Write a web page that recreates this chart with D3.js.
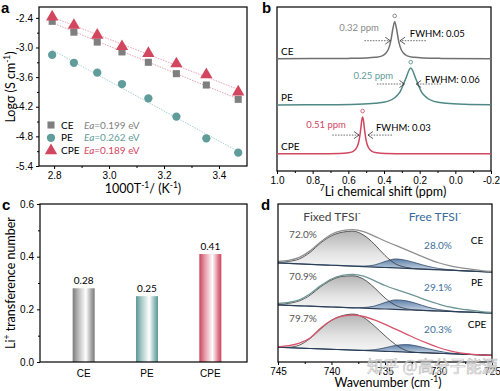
<!DOCTYPE html>
<html>
<head>
<meta charset="utf-8">
<script src="https://cdn.jsdelivr.net/npm/d3@7"></script>
<style>
  body { margin: 0; background: #fff; }
  svg { font-family: Lato, "Open Sans", sans-serif; }
</style>
</head>
<body>
<svg id="chart" width="500" height="391"></svg>
<script>
/* DATA */
const samples = ["CE", "PE", "CPE"];

// (a) Arrhenius plot
const invT   = [2.793, 2.872, 2.957, 3.047, 3.143, 3.245, 3.354, 3.470];
const logCE  = [-2.47, -2.69, -2.89, -3.09, -3.30, -3.53, -3.76, -4.05];
const logPE  = [-3.15, -3.31, -3.51, -3.74, -4.03, -4.40, -4.84, -5.13];
const logCPE = [-2.38, -2.55, -2.75, -2.98, -3.12, -3.33, -3.55, -3.90];
const eaText = ["0.199", "0.262", "0.189"];

// (b) 7Li NMR, [ppm, normalised intensity]
const nmrCE = [[1.0,0.004],[0.8,0.006],[0.6,0.012],[0.5,0.022],[0.45,0.04],[0.41,0.08],[0.39,0.15],
  [0.37,0.33],[0.36,0.53],[0.35,0.82],[0.34,1],[0.33,0.82],[0.32,0.53],[0.31,0.33],[0.29,0.15],
  [0.27,0.08],[0.23,0.04],[0.18,0.022],[0.08,0.012],[-0.2,0.004]];
const nmrPE = [[1.0,0.006],[0.7,0.01],[0.55,0.022],[0.45,0.05],[0.38,0.1],[0.34,0.2],[0.31,0.36],
  [0.28,0.69],[0.25,1],[0.22,0.69],[0.19,0.36],[0.16,0.2],[0.12,0.1],[0.05,0.05],[-0.05,0.022],[-0.2,0.01]];
const nmrCPE = [[1.0,0.003],[0.77,0.004],[0.65,0.013],[0.6,0.034],[0.57,0.08],[0.55,0.2],[0.54,0.36],
  [0.53,0.69],[0.525,0.9],[0.52,1],[0.515,0.9],[0.51,0.69],[0.5,0.36],[0.49,0.2],[0.47,0.08],
  [0.44,0.034],[0.39,0.013],[0.27,0.004],[-0.2,0.003]];
const peakPpm   = [0.34, 0.25, 0.52];
const ppmLabel  = ["0.32 ppm", "0.25 ppm", "0.51 ppm"];
const fwhmLabel = ["FWHM: 0.05", "FWHM: 0.06", "FWHM: 0.03"];

// (c) Li+ transference number
const tLi = [0.28, 0.25, 0.41];

// (d) FTIR deconvolution, heights above baseline (a.u.)
const wn = [745, 744, 743, 742, 741, 740, 739, 738, 737, 736, 735, 734, 733, 732, 731, 730, 729, 728, 727, 726, 725];
const fixedCE  = [0.5, 2, 5, 12, 22, 29.5, 33.5, 35, 31.5, 23, 12, 4, 1, 0, 0, 0, 0, 0, 0, 0, 0];
const freeCE   = [0, 0, 0, 0, 0, 0, 0, 0, 0.5, 2, 6, 9, 8, 5.5, 3, 1.3, 0.5, 0, 0, 0, 0];
const envCE    = [1.5, 3, 6.5, 13.5, 23, 31, 35, 36.5, 35, 31, 26.5, 22.5, 18.5, 14.5, 10.5, 7, 4.5, 3, 2, 1, 0.5];
const fixedPE  = [0.5, 2, 5, 11, 20, 27, 31, 32, 29, 21, 11, 4, 1, 0, 0, 0, 0, 0, 0, 0, 0];
const freePE   = [0, 0, 0, 0, 0, 0, 0, 0, 0.7, 2.5, 6.5, 9.5, 9, 6.5, 3.5, 1.5, 0.5, 0, 0, 0, 0];
const envPE    = [1.5, 3, 6, 12.5, 21, 28, 32, 33.5, 32, 28, 23.5, 20, 17, 13.5, 10, 7, 4.5, 3, 2, 1, 0.5];
const fixedCPE = [0, 0.5, 3, 10, 20, 29, 34, 36, 33, 25, 15.5, 7, 1.5, 0, 0, 0, 0, 0, 0, 0, 0];
const freeCPE  = [0, 0, 0, 0, 0, 0, 0, 0, 0.3, 1.2, 3.5, 6.3, 7.5, 6.5, 4.2, 2.2, 0.8, 0.2, 0, 0, 0];
const envCPE   = [0.5, 2, 5, 10.5, 21, 29, 33.5, 35, 34, 31, 27, 22.5, 18, 13.5, 9.5, 5.8, 3, 1.2, 0.4, 0, 0];
const baseDrop = [9, 8, 8];   // baseline fall from 745 to 725 cm-1
const fixedPct = ["72.0%", "70.9%", "79.7%"];
const freePct  = ["28.0%", "29.1%", "20.3%"];

/* STYLE */
const colors = { CE: "#7f7f7f", PE: "#5f9c9a", CPE: "#d2475f" };
const fitColors = { CE: "#e3a3b0", PE: "#a6d2dc", CPE: "#eba3b4" };

const svg = d3.select("#chart");
const defs = svg.append("defs");

// little helper for labels with superscripts: parts = [[text, isSup], ...]
function richText(sel, parts, size) {
  parts.forEach(([t, sup], i) => {
    const prevSup = i > 0 && parts[i - 1][1];
    sel.append("tspan")
      .attr("font-size", sup ? size * 0.68 : size)
      .attr("dy", sup ? -size * 0.38 : (prevSup ? size * 0.38 : 0))
      .text(t);
  });
  return sel;
}

function frame(g, x0, y0, x1, y1) {
  g.append("rect")
    .attr("x", x0).attr("y", y0)
    .attr("width", x1 - x0).attr("height", y1 - y0)
    .attr("fill", "none").attr("stroke", "#000").attr("stroke-width", 1.2);
}

function styleAxis(g) {
  g.select(".domain").remove();
  g.selectAll("text").attr("font-size", 10).attr("fill", "#000");
  g.selectAll("line").attr("stroke", "#000");
}

function panelLetter(x, y, t) {
  svg.append("text").attr("x", x).attr("y", y)
    .attr("font-size", 15).attr("font-weight", "bold")
    .attr("font-family", "Liberation Sans, Arial, sans-serif")
    .text(t);
}

/* PANEL A */
{
  const g = svg.append("g");
  const x = d3.scaleLinear().domain([2.745, 3.502]).range([39, 247]);
  const y = d3.scaleLinear().domain([-5.4, -2.18]).range([166, 7]);
  const series = [logCE, logPE, logCPE];
  const symbols = [d3.symbolSquare, d3.symbolCircle, d3.symbolTriangle];
  const symSizes = [50, 54, 66];

  g.append("g").attr("transform", "translate(0,166)")
    .call(d3.axisBottom(x).tickValues([2.8, 3.0, 3.2, 3.4]).tickSize(3).tickFormat(d => d.toFixed(1)))
    .call(styleAxis);
  g.append("g").attr("transform", "translate(0,166)")
    .call(d3.axisBottom(x).tickValues([2.9, 3.1, 3.3]).tickSize(2).tickFormat(""))
    .call(styleAxis);
  g.append("g").attr("transform", "translate(39,0)")
    .call(d3.axisLeft(y).tickValues([-2.4, -3.0, -3.6, -4.2, -4.8, -5.4]).tickSize(3).tickFormat(d => d.toFixed(1)))
    .call(styleAxis);
  g.append("g").attr("transform", "translate(39,0)")
    .call(d3.axisLeft(y).tickValues([-2.7, -3.3, -3.9, -4.5, -5.1]).tickSize(2).tickFormat(""))
    .call(styleAxis);
  frame(g, 39, 7, 247, 166);

  // least-squares fit lines
  series.forEach((vals, i) => {
    const mx = d3.mean(invT), my = d3.mean(vals);
    const slope = d3.sum(invT, (t, k) => (t - mx) * (vals[k] - my)) / d3.sum(invT, t => (t - mx) ** 2);
    const ends = [invT[0], invT[invT.length - 1]];
    g.append("path")
      .attr("d", d3.line().x(d => x(d)).y(d => y(my + slope * (d - mx)))(ends))
      .attr("fill", "none").attr("stroke", fitColors[samples[i]])
      .attr("stroke-width", 1).attr("stroke-dasharray", "1.5,1.2");
  });

  series.forEach((vals, i) => {
    g.selectAll(null).data(vals).join("path")
      .attr("transform", (d, k) => `translate(${x(invT[k])},${y(d)})`)
      .attr("d", d3.symbol(symbols[i], symSizes[i]))
      .attr("fill", colors[samples[i]]);
  });

  // legend
  samples.forEach((s, i) => {
    const ly = 125 + i * 12.8;
    g.append("path").attr("transform", `translate(51,${ly})`)
      .attr("d", d3.symbol(symbols[i], symSizes[i])).attr("fill", colors[s]);
    g.append("text").attr("x", 61).attr("y", ly + 3.5).attr("font-size", 10).text(s);
    const t = g.append("text").attr("x", 84).attr("y", ly + 3.5).attr("font-size", 10).attr("fill", colors[s]);
    t.append("tspan").attr("font-style", "italic").text("Ea");
    t.append("tspan").text(`=${eaText[i]} eV`);
  });

  richText(g.append("text").attr("x", 143).attr("y", 193).attr("text-anchor", "middle"),
    [["1000T", false], ["-1", true], ["/ (K", false], ["-1", true], [")", false]], 12.5);
  richText(g.append("text").attr("transform", "translate(15,87) rotate(-90)").attr("text-anchor", "middle"),
    [["Logσ (S cm", false], ["-1", true], [")", false]], 12.5);
  panelLetter(1, 13, "a");
}

/* PANEL B */
{
  const g = svg.append("g");
  const x = d3.scaleLinear().domain([1.0, -0.2]).range([277, 491]);
  const y = d3.scaleLinear().domain([0, 4.43]).range([171, 7]);
  const offsets = [3.03, 1.78, 0.46];
  const traces = [nmrCE, nmrPE, nmrCPE];
  const lineCol = { CE: "#707070", PE: "#4f8985", CPE: "#d2475f" };

  defs.append("marker").attr("id", "chev").attr("viewBox", "0 0 6 8")
    .attr("refX", 5.5).attr("refY", 4).attr("markerWidth", 6).attr("markerHeight", 8)
    .attr("markerUnits", "userSpaceOnUse").attr("orient", "auto")
    .append("path").attr("d", "M0.5,0.5 L5.5,4 L0.5,7.5").attr("fill", "none")
    .attr("stroke", "#333").attr("stroke-width", 0.8);

  g.append("g").attr("transform", "translate(0,171)")
    .call(d3.axisBottom(x).tickValues([1.0, 0.8, 0.6, 0.4, 0.2, 0.0, -0.2]).tickSize(3).tickFormat(d => d.toFixed(1)))
    .call(styleAxis);
  g.append("g").attr("transform", "translate(0,171)")
    .call(d3.axisBottom(x).tickValues([0.9, 0.7, 0.5, 0.3, 0.1, -0.1]).tickSize(2).tickFormat(""))
    .call(styleAxis);
  frame(g, 277, 7, 491, 171);

  // annotation layout per trace, in data units relative to each baseline
  const ann = [
    { lx: 0.54, ly: 0.74, a0: 0.51, a1: 0.365, ay: 0.49, fx: 0.255, fy: 0.58, f0: 0.165, f1: 0.31 },
    { lx: 0.46, ly: 0.71, a0: 0.44, a1: 0.285, ay: 0.57, fx: 0.17, fy: 0.6, f0: 0.08, f1: 0.22 },
    { lx: 0.725, ly: 0.71, a0: 0.69, a1: 0.54, ay: 0.51, fx: 0.445, fy: 0.62, f0: 0.355, f1: 0.49 }
  ];

  traces.forEach((tr, i) => {
    const s = samples[i], off = offsets[i];
    g.append("path")
      .attr("d", d3.line().x(d => x(d[0])).y(d => y(off + d[1])).curve(d3.curveMonotoneX)(tr))
      .attr("fill", "none").attr("stroke", lineCol[s]).attr("stroke-width", 1.5);
    g.append("circle").attr("cx", x(peakPpm[i])).attr("cy", y(off + 1.16)).attr("r", 1.8)
      .attr("fill", "none").attr("stroke", lineCol[s]).attr("stroke-width", 0.8);
    g.append("text").attr("x", 281).attr("y", y(off) - 4).attr("font-size", 10).text(s);

    const a = ann[i];
    g.append("text").attr("x", x(a.lx)).attr("y", y(off + a.ly)).attr("text-anchor", "middle")
      .attr("font-size", 9.5).attr("fill", s === "CE" ? "#8a8a8a" : colors[s]).text(ppmLabel[i]);
    g.append("text").attr("x", x(a.fx)).attr("y", y(off + a.fy)).attr("font-size", 9.5).text(fwhmLabel[i]);
    [[a.a0, a.a1], [a.f0, a.f1]].forEach(([p0, p1]) => {
      g.append("line").attr("x1", x(p0)).attr("x2", x(p1))
        .attr("y1", y(off + a.ay)).attr("y2", y(off + a.ay))
        .attr("stroke", "#333").attr("stroke-width", 0.7).attr("stroke-dasharray", "1.6,1.2")
        .attr("marker-end", "url(#chev)");
    });
  });

  richText(g.append("text").attr("x", 383).attr("y", 196).attr("text-anchor", "middle"),
    [["7", true], ["Li chemical shift (ppm)", false]], 12.5);
  panelLetter(262, 13, "b");
}

/* PANEL C */
{
  const g = svg.append("g");
  const x = d3.scaleBand().domain(samples).range([52, 242]);
  const y = d3.scaleLinear().domain([0, 0.6]).range([362, 204]);
  const barW = 22;

  samples.forEach(s => {
    const c = d3.color(colors[s]);
    const grad = defs.append("linearGradient").attr("id", `bar-${s}`)
      .attr("x1", 0).attr("x2", 1).attr("y1", 0).attr("y2", 0);
    [[0, c.darker(0.1)], [0.25, d3.interpolateRgb(c, "#fff")(0.45)], [0.6, "#fff"],
     [0.85, d3.interpolateRgb(c, "#fff")(0.3)], [1, c.darker(0.1)]]
      .forEach(([o, col]) => grad.append("stop").attr("offset", o).attr("stop-color", col));
  });

  g.append("g").attr("transform", "translate(40,0)")
    .call(d3.axisLeft(y).tickValues([0, 0.2, 0.4, 0.6]).tickSize(3).tickFormat(d => d.toFixed(1)))
    .call(styleAxis);
  g.append("g").attr("transform", "translate(40,0)")
    .call(d3.axisLeft(y).tickValues([0.1, 0.3, 0.5]).tickSize(2).tickFormat(""))
    .call(styleAxis);
  g.append("g").attr("transform", "translate(0,362)")
    .call(d3.axisBottom(x).tickSize(0).tickPadding(8))
    .call(styleAxis);

  g.selectAll(".bar").data(tLi).join("rect").attr("class", "bar")
    .attr("x", (d, i) => x(samples[i]) + x.bandwidth() / 2 - barW / 2)
    .attr("width", barW)
    .attr("y", d => y(d)).attr("height", d => y(0) - y(d))
    .attr("fill", (d, i) => `url(#bar-${samples[i]})`);
  g.selectAll(".val").data(tLi).join("text").attr("class", "val")
    .attr("x", (d, i) => x(samples[i]) + x.bandwidth() / 2)
    .attr("y", d => y(d) - 4).attr("text-anchor", "middle").attr("font-size", 10)
    .text(d => d.toFixed(2));
  frame(g, 40, 204, 247, 362);

  richText(g.append("text").attr("transform", "translate(15,283) rotate(-90)").attr("text-anchor", "middle"),
    [["Li", false], ["+", true], [" transference number", false]], 12.5);
  panelLetter(2, 210, "c");
}

/* PANEL D */
{
  const g = svg.append("g");
  const x = d3.scaleLinear().domain([745, 725]).range([278, 492]);
  const y = d3.scaleLinear().domain([0, 158]).range([362, 204]);
  const offsets = [99, 57, 14.7];
  const fixed = [fixedCE, fixedPE, fixedCPE];
  const free = [freeCE, freePE, freeCPE];
  const env = [envCE, envPE, envCPE];
  const envCol = { CE: "#8f8f8f", PE: "#6d9694", CPE: "#d9536b" };

  const gf = defs.append("linearGradient").attr("id", "fixedFill").attr("x1", 0).attr("x2", 0).attr("y1", 0).attr("y2", 1);
  [[0, "#b4b4b4"], [0.55, "#e4e4e4"], [1, "#fbfbfb"]].forEach(([o, c]) => gf.append("stop").attr("offset", o).attr("stop-color", c));
  const gb = defs.append("linearGradient").attr("id", "freeFill").attr("x1", 0).attr("x2", 0).attr("y1", 0).attr("y2", 1);
  [[0, "#5d7fa8"], [0.6, "#a9bdd4"], [1, "#e6edf4"]].forEach(([o, c]) => gb.append("stop").attr("offset", o).attr("stop-color", c));

  g.append("g").attr("transform", "translate(0,362)")
    .call(d3.axisBottom(x).tickValues([745, 740, 735, 730, 725]).tickSize(3))
    .call(styleAxis);
  g.append("g").attr("transform", "translate(0,362)")
    .call(d3.axisBottom(x).tickValues([742.5, 737.5, 732.5, 727.5]).tickSize(2).tickFormat(""))
    .call(styleAxis);

  samples.forEach((s, i) => {
    const off = offsets[i];
    const base = w => off - baseDrop[i] * (745 - w) / 20;
    const pts = arr => arr.map((h, k) => ({ w: wn[k], h }));
    const area = d3.area().x(d => x(d.w)).y0(d => y(base(d.w))).y1(d => y(base(d.w) + d.h)).curve(d3.curveMonotoneX);
    const line = d3.line().x(d => x(d.w)).y(d => y(base(d.w) + d.h)).curve(d3.curveMonotoneX);

    g.append("path").attr("d", area(pts(fixed[i]))).attr("fill", "url(#fixedFill)");
    g.append("path").attr("d", area(pts(free[i]))).attr("fill", "url(#freeFill)");
    g.append("path").attr("d", line(pts(fixed[i]))).attr("fill", "none").attr("stroke", "#333").attr("stroke-width", 0.8);
    g.append("path").attr("d", line(pts(free[i]))).attr("fill", "none").attr("stroke", "#2e4a6b").attr("stroke-width", 0.8);
    g.append("path").attr("d", line(pts(wn.map(() => 0)))).attr("fill", "none").attr("stroke", "#2b3f58").attr("stroke-width", 1.2);
    g.append("path").attr("d", line(pts(env[i]))).attr("fill", "none").attr("stroke", envCol[s]).attr("stroke-width", 1.3);

    g.append("text").attr("x", 303).attr("y", y(off + 25)).attr("text-anchor", "middle")
      .attr("font-size", 10).attr("fill", "#555").text(fixedPct[i]);
    g.append("text").attr("x", 438).attr("y", y(off + 14)).attr("text-anchor", "middle")
      .attr("font-size", 10).attr("fill", "#41709c").text(freePct[i]);
    g.append("text").attr("x", 477).attr("y", y(off + 19)).attr("text-anchor", "middle")
      .attr("font-size", 10).text(s);
  });
  frame(g, 278, 204, 492, 362);

  richText(g.append("text").attr("x", 332).attr("y", 221).attr("text-anchor", "middle").attr("fill", "#444"),
    [["Fixed TFSI", false], ["-", true]], 12);
  richText(g.append("text").attr("x", 435).attr("y", 221).attr("text-anchor", "middle").attr("fill", "#3b6c9c"),
    [["Free TFSI", false], ["-", true]], 12);
  richText(g.append("text").attr("x", 388).attr("y", 387).attr("text-anchor", "middle"),
    [["Wavenumber (cm", false], ["-1", true], [")", false]], 12.5);
  panelLetter(261, 210, "d");

  // watermark
  svg.append("text").attr("x", 367).attr("y", 372)
    .attr("font-family", "Noto Sans CJK SC").attr("font-size", 16)
    .attr("fill", "#fff").attr("fill-opacity", 0.55)
    .attr("stroke", "#b9b9b9").attr("stroke-width", 0.6)
    .text("知乎 @高分子能源");
}
</script>
</body>
</html>
